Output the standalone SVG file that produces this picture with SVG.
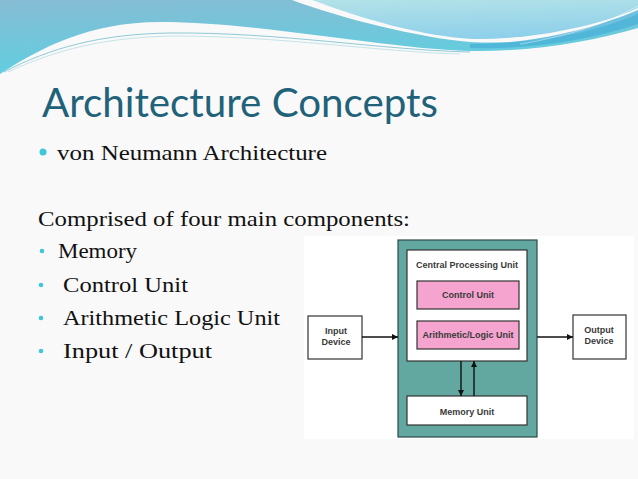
<svg xmlns="http://www.w3.org/2000/svg" width="638" height="479" viewBox="0 0 638 479">
<defs>
<linearGradient id="gL" x1="0" y1="0" x2="0.3" y2="1">
<stop offset="0" stop-color="#86bcd4"/>
<stop offset="1" stop-color="#5fcfe0"/>
</linearGradient>
<linearGradient id="gR" x1="0" y1="0" x2="0.2" y2="1">
<stop offset="0" stop-color="#b3e2e8"/>
<stop offset="1" stop-color="#8fd0ea"/>
</linearGradient>
<marker id="ah" viewBox="0 0 10 10" refX="10" refY="5" markerWidth="4.5" markerHeight="4.5" orient="auto" markerUnits="strokeWidth">
<path d="M0,0 L10,5 L0,10 Z" fill="#111"/>
</marker>
<style>
.serif{font-family:"Liberation Serif","DejaVu Serif",serif;font-size:22px;fill:#111}
.dot{fill:#3fc6da}
.box{fill:#fff;stroke:#333;stroke-width:1.2}
.pink{fill:#f5a3cf;stroke:#333;stroke-width:1.2}
.lbl{font-family:"Liberation Sans",Arial,sans-serif;font-size:9px;font-weight:bold;fill:#3a3a3a;text-anchor:middle}
.conn{stroke:#111;stroke-width:1.4;fill:none;marker-end:url(#ah)}
</style>
</defs>
<rect width="638" height="479" fill="#f9f9f9"/>
<!-- top decoration -->
<path d="M0,0 L292,0 C340,18 420,38 470,42 C540,46 600,30 638,14 L638,28 C590,42 530,52 470,51 C380,48 260,22 160,22 C90,22 40,48 0,74 Z" fill="url(#gL)"/>
<path d="M312,0 L638,0 L638,8 C600,26 530,40 472,39 C420,36 360,18 312,0 Z" fill="url(#gR)"/>
<path d="M470,44 C540,44 600,26 638,10 L638,24 C590,40 530,50 470,48 Z" fill="#4bb2d8" opacity="0.8"/>
<path d="M520,44 C570,36 610,22 638,6" stroke="#ffffff" stroke-width="0.6" fill="none" opacity="0.7"/>
<path d="M4,72 C50,48 100,34 170,33 C280,32 380,50 470,52" stroke="#8fcad6" stroke-width="1" fill="none"/>
<path d="M8,72 C55,50 105,37 175,36 C280,36 380,52 460,54" stroke="#b8dde4" stroke-width="0.8" fill="none"/>

<text x="42" y="117" font-family="Lato,'Open Sans',sans-serif" font-size="40" fill="#21627a" textLength="396" lengthAdjust="spacingAndGlyphs">Architecture Concepts</text>
<circle class="dot" cx="43" cy="152" r="3.5"/>
<text class="serif" x="57" y="160" textLength="270" lengthAdjust="spacingAndGlyphs">von Neumann Architecture</text>
<text class="serif" x="38" y="226" textLength="372" lengthAdjust="spacingAndGlyphs">Comprised of four main components:</text>
<circle class="dot" cx="42" cy="251" r="2.3"/>
<text class="serif" x="58" y="258" textLength="79" lengthAdjust="spacingAndGlyphs">Memory</text>
<circle class="dot" cx="41" cy="285" r="2.3"/>
<text class="serif" x="63" y="292" textLength="125" lengthAdjust="spacingAndGlyphs">Control Unit</text>
<circle class="dot" cx="41" cy="318" r="2.3"/>
<text class="serif" x="63" y="325" textLength="217" lengthAdjust="spacingAndGlyphs">Arithmetic Logic Unit</text>
<circle class="dot" cx="41" cy="351" r="2.3"/>
<text class="serif" x="63" y="358" textLength="149" lengthAdjust="spacingAndGlyphs">Input / Output</text>

<rect x="304" y="236" width="330" height="203" fill="#ffffff"/>
<g id="cpu">
<rect x="398" y="240" width="139" height="197" fill="#63a8a0" stroke="#2f4a48" stroke-width="1.2"/>
<rect class="box" x="407" y="250" width="120" height="111"/>
<text class="lbl" x="467" y="268" font-size="8.5">Central Processing Unit</text>
</g>
<g id="control">
<rect class="pink" x="417" y="281" width="102" height="28"/>
<text class="lbl" x="468" y="298">Control Unit</text>
</g>
<g id="alu">
<rect class="pink" x="417" y="321" width="102" height="28"/>
<text class="lbl" x="468" y="338">Arithmetic/Logic Unit</text>
</g>
<g id="memory">
<rect class="box" x="407" y="396" width="120" height="29"/>
<text class="lbl" x="467" y="415">Memory Unit</text>
</g>
<g id="input">
<rect class="box" x="308" y="316" width="54" height="43"/>
<text class="lbl" x="336" y="334">Input</text>
<text class="lbl" x="336" y="345">Device</text>
</g>
<g id="output">
<rect class="box" x="573" y="315" width="53" height="44"/>
<text class="lbl" x="599" y="333">Output</text>
<text class="lbl" x="599" y="344">Device</text>
</g>
<g id="connectors">
<line class="conn" x1="362" y1="337" x2="398" y2="337"/>
<line class="conn" x1="537" y1="337" x2="573" y2="337"/>
<line class="conn" x1="461" y1="361" x2="461" y2="396"/>
<line class="conn" x1="474" y1="396" x2="474" y2="361"/>
</g>
</svg>
